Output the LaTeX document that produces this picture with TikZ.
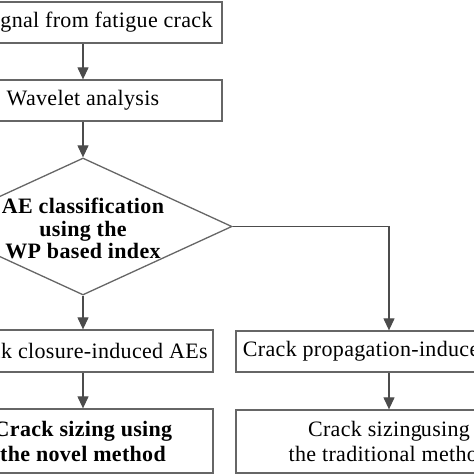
\documentclass[tikz,border=0pt]{standalone}
\usepackage{fontspec}
\setmainfont[LetterSpace=1.5]{Liberation Serif}
\usepackage{tikz}
\usetikzlibrary{arrows.meta}
\usetikzlibrary{positioning}
\usetikzlibrary{shapes.geometric}

\begin{document}
\begin{tikzpicture}[x=1pt, y=-1pt, >={Triangle[length=12pt,width=11pt]},
  font=\fontsize{22}{23.5}\selectfont,
  every box/.style={draw=black!60, line width=1.3pt, fill=white, inner sep=0pt, align=center},
  every link/.style={->, draw=black!70, line width=1.2pt}]

\useasboundingbox (0,0) rectangle (474,474);
\clip (0,0) rectangle (474,474);

% left column
\node [every box/.try, minimum width=278pt, minimum height=41pt] (signal) at (83,22.5) {};
\node at ([xshift=14pt]signal) {Signal from fatigue crack};
\node [every box/.try, minimum width=278pt, minimum height=41pt] (wavelet) at (83,100.5) {Wavelet analysis};

\node [every box/.try, diamond, minimum width=298pt, minimum height=137pt] (classify) at (83,226.5) {};
\node [align=center, font=\fontsize{22}{22.5}\selectfont\bfseries] at ([yshift=-2pt]classify) {AE classification\\ using the\\ WP based index};

\node [every box/.try, minimum width=260pt, minimum height=42pt] (closure) at (83,351) {Crack closure-induced AEs};
\node [every box/.try, minimum width=260pt, minimum height=64pt, font=\fontsize{22}{25}\selectfont\bfseries] (novel) at (83,441) {Crack sizing using\\ the novel method};

% right column
\node [every box/.try, minimum width=306pt, minimum height=41pt] (propagation) at (389,351.5) {Crack propagation-induced AEs};
\node [every box/.try, minimum width=306pt, minimum height=63pt, font=\fontsize{22}{25}\selectfont] (traditional) at (389,441.5) {Crack sizing\kern-1pt using\\ the traditional method};

\draw [every link/.try] (signal) -- (wavelet);
\draw [every link/.try] (wavelet) -- (classify.north);
\draw [every link/.try] (classify.south) -- (closure);
\draw [every link/.try] (classify.east) -| (propagation.north);
\draw [every link/.try] (closure) -- (novel);
\draw [every link/.try] (propagation) -- (traditional);

\end{tikzpicture}
\end{document}
